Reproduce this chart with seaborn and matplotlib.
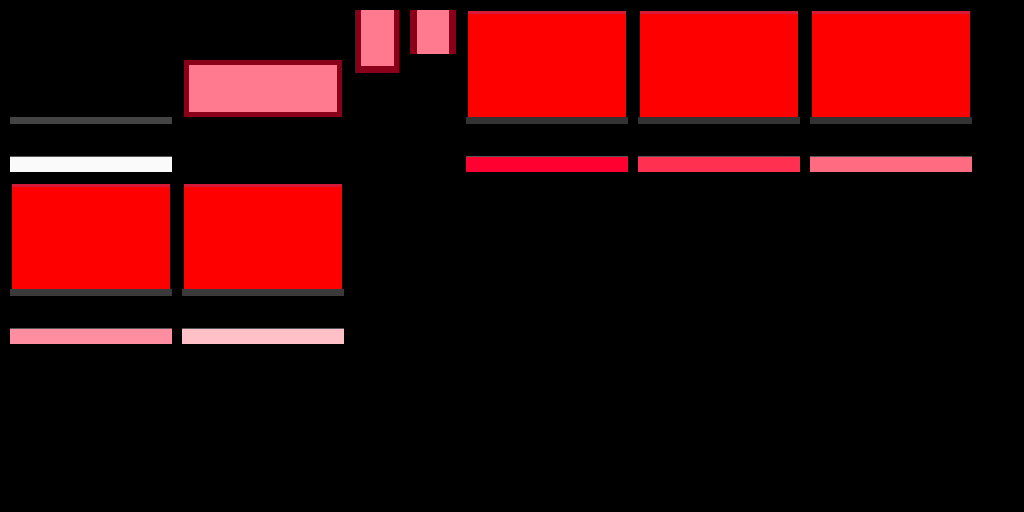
import matplotlib
matplotlib.use("Agg")
import matplotlib.pyplot as plt
import seaborn as sns

sns.set_theme(style="dark", rc={"axes.facecolor": "black", "figure.facecolor": "black"})

# red panels (left, top, width, height) in pixels of the screenshot
panel_left = [468, 640, 812, 12, 184]
panel_top = [11, 11, 11, 184, 184]
panel_width = [158, 158, 158, 158, 158]
panel_height = [106, 106, 106, 105, 105]

# dark grey bases under each panel
base_left = [10, 466, 638, 810, 10, 182]
base_top = [117, 117, 117, 117, 289, 289]
base_width = [162, 162, 162, 162, 162, 162]
base_height = [7, 7, 7, 7, 7, 7]
base_colors = ["#444444", "#333333", "#333333", "#333333", "#3a3a3a", "#3a3a3a"]

# coloured swatch strips
strip_left = [10, 466, 638, 810, 10, 182]
strip_top = [156, 156, 156, 156, 328, 328]
strip_width = [162, 162, 162, 162, 162, 162]
strip_height = [16, 16, 16, 16, 16, 16]
strip_colors = ["#fafafa", "#ff0030", "#ff3050", "#ff6b80", "#ff8fa0", "#ffc0c8"]

# pink boxes with dark red frames: outer frame and inner fill
frame_left = [184, 355, 410]
frame_top = [60, 10, 10]
frame_width = [158, 44, 46]
frame_height = [57, 63, 44]
fill_left = [189, 361, 417]
fill_top = [65, 10, 10]
fill_width = [148, 33, 32]
fill_height = [47, 56, 44]

fig = plt.figure(figsize=(10.24, 5.12), dpi=100)
ax = fig.add_axes([0, 0, 1, 1])
ax.set_xlim(0, 1024)
ax.set_ylim(512, 0)
ax.axis("off")

ax.bar(panel_left, panel_height, width=panel_width, bottom=panel_top,
       align="edge", color="#ff0000", linewidth=0)
# darker line along the top of each panel
ax.bar(panel_left, [3] * len(panel_left), width=panel_width, bottom=panel_top,
       align="edge", color="#d81a38", linewidth=0)
ax.bar(base_left, base_height, width=base_width, bottom=base_top,
       align="edge", color=base_colors, linewidth=0)
ax.bar(strip_left, strip_height, width=strip_width, bottom=strip_top,
       align="edge", color=strip_colors, linewidth=0)
ax.bar(strip_left, [1] * len(strip_left), width=strip_width, bottom=strip_top,
       align="edge", color="#555555", linewidth=0)
ax.bar(frame_left, frame_height, width=frame_width, bottom=frame_top,
       align="edge", color="#8a0018", linewidth=0)
ax.bar(fill_left, fill_height, width=fill_width, bottom=fill_top,
       align="edge", color="#ff7a8e", linewidth=0)

fig.savefig("out.png", dpi=100, facecolor="black")
